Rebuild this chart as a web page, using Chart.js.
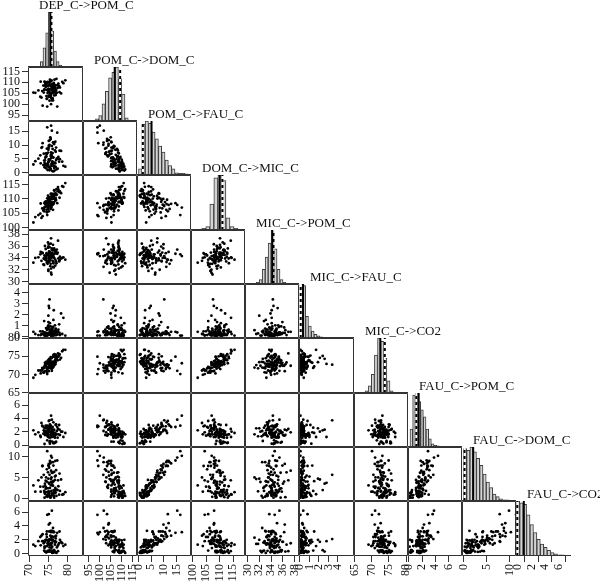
<!DOCTYPE html>
<html>
<head>
<meta charset="utf-8">
<script src="https://cdn.jsdelivr.net/npm/chart.js"></script>
<style>
  html, body { margin: 0; padding: 0; background: #fff; }
  #matrix { position: relative; width: 600px; height: 585px; overflow: hidden; background: #fff; }
  #matrix canvas { position: absolute; }
</style>
</head>
<body>
<div id="matrix"></div>
<script>
// flow names, in matrix order
const varNames = ['DEP_C->POM_C', 'POM_C->DOM_C', 'POM_C->FAU_C', 'DOM_C->MIC_C', 'MIC_C->POM_C',
                  'MIC_C->FAU_C', 'MIC_C->CO2', 'FAU_C->POM_C', 'FAU_C->DOM_C', 'FAU_C->CO2'];

// sampled flows (one entry per draw), estimated from the scatter clouds
const depPom = [75.8,74.6,76.9,75.2,73.9,77.4,75.5,76.2,74.1,78.3, 75.0,76.6,72.4,75.9,74.8,76.1,77.8,75.3,73.5,76.4,
  75.6,74.3,76.8,75.1,77.1,74.9,76.0,73.2,75.7,78.9, 75.4,74.0,76.3,75.8,71.6,76.7,75.2,74.7,77.5,75.9,
  74.4,76.5,75.3,73.7,77.0,75.6,76.2,74.5,79.4,75.0, 76.0,74.8,75.7,77.3,73.0,76.4,75.1,74.2,76.9,75.5,
  78.0,74.9,76.3,72.9,75.8,75.0,76.7,74.6,77.6,75.3, 74.1,76.1,75.4,73.4,76.8,75.7,77.2,74.4,75.9,71.1,
  76.5,75.2,74.7,77.9,75.6,74.3,76.2,75.0,73.8,76.6, 75.4,77.0,74.5,75.9,76.3,74.0,75.7,78.6,75.1,76.0];
const pomDom = [110.8,102.5,108.7,106.7,106.5,107.4,105.0,106.0,110.1,104.9, 106.6,111.2,106.3,101.8,105.1,107.9,108.2,108.6,99.3,109.7,
  103.9,109.0,105.2,106.3,111.6,108.4,105.3,103.0,108.7,109.6, 104.1,106.8,109.1,107.3,105.2,108.2,105.7,98.9,108.7,106.7,
  108.7,108.8,101.6,108.5,106.3,103.3,108.9,103.7,110.9,106.1, 106.8,110.2,104.5,98.9,110.3,107.3,103.9,109.2,104.2,110.4,
  107.6,106.5,105.3,103.4,110.8,107.1,106.2,102.4,109.4,109.0, 108.6,102.7,111.2,106.0,107.3,100.0,105.2,109.8,108.2,105.3,
  104.0,105.9,109.5,105.5,108.4,107.9,101.7,110.0,105.3,106.3, 110.0,105.3,106.5,106.4,105.3,110.3,102.9,110.2,103.3,109.1];
const pomFau = [3.2,6.8,2.1,9.5,4.4,1.5,12.8,5.6,2.7,7.9, 3.9,0.8,5.1,15.2,2.3,8.6,4.0,1.9,10.7,3.5,
  6.1,2.9,11.2,4.8,1.2,7.3,3.0,9.0,5.3,2.5, 11.8,3.6,0.5,6.5,4.2,8.1,2.0,16.4,5.0,3.3,
  7.0,1.7,10.1,2.8,4.6,12.2,3.8,5.9,2.2,8.9, 4.1,1.0,6.6,14.5,3.4,2.6,9.8,5.4,7.6,1.4,
  4.9,3.1,11.0,6.3,2.4,8.3,3.7,8.7,5.7,0.9, 4.5,7.1,2.2,9.3,3.4,17.0,5.2,1.6,6.0,3.0,
  10.4,4.3,2.6,8.0,1.3,5.8,10.9,3.9,6.9,2.3, 4.7,9.1,3.2,9.7,5.5,2.0,7.4,4.0,11.5,0.6];
const domMic = [111.8,105.6,111.9,108.0,105.7,112.7,108.3,110.1,108.4,112.0, 106.5,112.8,104.4,107.9,107.2,110.1,112.4,110.3,104.0,110.4,
  108.5,109.0,109.7,107.8,113.4,111.1,110.0,103.4,109.0,114.2, 107.9,107.1,111.0,107.3,103.7,111.8,107.9,104.4,114.1,108.8,
  107.4,113.0,107.5,106.0,111.3,106.5,111.7,106.3,115.5,109.0, 110.0,108.4,106.9,108.5,108.4,110.5,107.8,108.9,110.3,108.8,
  112.6,109.5,108.2,104.9,110.7,106.9,111.6,105.3,113.3,110.6, 108.9,108.0,110.4,106.7,109.4,107.0,111.5,109.1,110.9,101.8,
  108.9,108.9,110.2,110.4,111.7,108.0,106.2,109.8,106.5,111.3, 109.6,109.6,108.6,110.0,108.3,108.5,110.1,114.4,105.7,111.3];
const micPom = [34.5,33.2,35.1,34.0,32.8,34.9,33.6,36.2,34.3,33.9, 31.8,34.7,34.1,35.4,33.0,34.6,33.4,35.8,34.8,32.4,
  34.2,35.5,33.7,34.4,33.1,36.6,34.9,33.5,32.2,34.1, 35.0,33.8,34.5,31.2,34.0,35.2,33.3,34.6,36.9,34.2,
  33.6,35.6,34.3,32.9,34.8,33.0,35.3,34.0,33.7,35.9, 34.4,33.4,31.5,34.7,35.0,34.1,36.3,33.8,34.9,32.6,
  34.2,35.7,33.3,34.6,34.0,32.0,35.2,34.4,33.9,34.8, 36.0,33.5,34.1,34.9,32.7,34.3,35.4,33.9,34.6,33.2,
  34.0,35.1,34.5,33.6,36.4,34.2,32.5,34.7,33.9,35.3, 34.1,33.4,34.8,35.6,33.1,34.4,37.3,34.0,33.7,34.6];
const micFau = [0.2,0.6,0.1,0.3,1.4,0.15,0.4,0.8,0.05,2.1, 0.25,0.5,0.1,0.35,0.7,0.1,1.1,0.2,0.45,0.05,
  0.9,0.15,0.3,2.8,0.4,0.1,0.6,0.2,0.05,1.7, 0.25,0.35,0.1,0.55,0.2,1.0,0.15,0.05,0.4,0.7,
  0.1,0.3,3.4,0.2,0.5,0.1,0.85,0.25,0.05,1.3, 0.15,0.6,0.2,0.4,0.1,2.4,0.3,0.05,0.7,0.35,
  0.1,0.9,0.2,0.45,0.05,1.9,0.25,0.1,0.6,0.15, 0.3,0.1,1.2,0.2,0.5,0.05,0.35,0.75,0.1,0.4,
  0.2,2.6,0.1,0.3,0.55,0.05,0.45,1.0,0.2,0.15, 0.6,0.1,0.3,0.25,1.5,0.05,0.4,0.2,0.8,0.1];
const micCo2 = [74.5,70.5,74.3,73.0,71.8,73.9,73.8,72.4,73.2,74.6, 71.7,75.6,71.1,71.0,73.0,72.6,75.2,72.6,71.5,73.5,
  74.8,72.3,72.8,72.9,74.5,73.3,72.8,71.1,72.4,76.8, 72.6,70.9,75.4,71.9,69.9,73.9,73.7,70.1,75.8,71.6,
  72.9,73.1,72.7,70.6,75.4,71.7,74.9,71.0,76.8,73.2, 73.0,73.0,72.6,74.9,70.3,75.1,70.9,72.7,73.3,74.3,
  74.1,73.9,72.7,71.1,72.7,73.4,73.3,71.7,74.9,73.7, 72.4,72.2,73.4,71.8,73.4,73.1,74.2,73.5,72.6,69.1,
  72.5,74.3,71.5,75.6,72.8,72.5,71.9,73.7,70.5,74.8, 71.9,75.0,72.2,73.5,72.2,72.2,72.4,76.4,72.1,73.5];
const fauPom = [1.8,1.5,0.4,2.8,2.6,1.1,2.7,1.4,1.6,2.0, 1.3,0.3,1.9,3.8,1.6,1.7,3.0,0.45,2.8,1.3,
  1.6,2.1,1.8,1.2,1.6,2.2,0.5,3.3,2.0,1.2, 3.1,2.0,0.25,1.6,1.6,1.5,2.4,2.9,2.4,1.4,
  2.5,0.35,3.7,1.7,0.5,2.9,1.7,1.6,1.8,1.9, 2.4,1.3,2.5,2.7,1.2,2.2,2.3,1.8,3.0,0.6,
  1.5,1.8,3.4,1.4,1.6,2.5,1.1,2.7,1.6,2.0, 1.5,2.7,0.2,2.9,1.5,4.4,2.1,1.6,1.2,2.2,
  2.3,2.3,0.7,2.3,1.5,2.9,2.1,1.2,2.2,1.2, 1.1,3.1,1.9,2.1,1.8,0.15,1.9,2.0,3.6,1.7];
const fauDom = [3.2,4.1,1.5,7.4,1.9,2.1,8.4,4.1,1.2,4.6, 1.8,1.3,4.4,9.8,0.5,6.2,1.0,1.7,7.8,0.7,
  3.3,2.4,9.0,3.8,0.7,6.3,0.9,5.1,4.0,1.1, 9.0,1.5,1.4,5.1,1.7,5.3,1.2,11.3,4.4,1.3,
  5.1,0.3,5.7,2.9,2.1,8.7,3.1,2.6,1.6,7.9, 3.4,0.7,4.7,9.1,1.7,2.1,8.3,3.0,5.5,0.3,
  1.9,2.5,7.9,2.9,1.9,4.8,4.5,7.0,3.0,0.7, 3.6,4.0,0.7,7.8,2.6,10.2,2.2,1.6,3.9,3.2,
  6.4,3.6,0.9,6.0,0.4,4.3,8.7,1.4,5.7,1.8, 2.6,6.8,0.6,6.2,4.2,0.3,6.7,1.0,7.8,0.9];
const fauCo2 = [0.8,2.4,0.2,3.2,0.45,1.1,2.6,3.1,0.3,1.7, 1.4,0.3,1.8,6.2,1.5,2.0,1.5,0.5,2.8,0.2,
  1.2,2.0,2.5,1.8,0.1,1.3,1.9,2.6,0.4,1.1, 4.4,0.8,0.15,2.3,1.1,1.8,1.4,5.6,0.35,3.3,
  2.0,0.5,2.1,1.8,1.7,3.3,0.25,2.8,1.3,1.7, 1.0,0.4,1.4,3.0,1.2,0.5,4.2,1.0,2.2,0.35,
  2.0,0.3,2.4,2.4,0.4,2.0,1.3,3.2,1.3,0.9, 1.7,2.0,2.0,1.8,1.6,3.1,0.9,0.2,1.5,1.3,
  3.1,0.3,1.1,3.2,0.3,1.9,3.7,1.9,1.5,1.7, 1.2,2.6,0.2,2.5,3.2,1.0,1.5,1.5,5.7,0.1];
const samples = [depPom, pomDom, pomFau, domMic, micPom, micFau, micCo2, fauPom, fauDom, fauCo2];

// axis ranges and tick labels
const xMin = [69.7, 92.3, -0.6, 99.3, 29.6, -0.1, 64.9, -0.1, -0.3, -0.24];
const xMax = [84.0, 117.0, 20.6, 119.4, 38.7, 5.7, 80.5, 8.0, 11.3, 7.77];
const yMin = [null, 92.3, -0.8, 99.2, 29.6, -0.17, 64.9, -0.3, -0.5, -0.34];
const yMax = [null, 117.0, 18.7, 118.3, 38.7, 4.83, 80.05, 7.8, 12.3, 7.6];
const tickVals = [[70, 75, 80], [95, 100, 105, 110, 115], [0, 5, 10, 15], [100, 105, 110, 115],
                  [30, 32, 34, 36, 38], [0, 1, 2, 3, 4], [65, 70, 75, 80], [0, 2, 4, 6], [0, 5, 10], [0, 2, 4, 6]];

// diagonal histograms: first bin edge, bin width, bar heights
const binStart = [72.9, 98.0, 0.0, 103.3, 31.5, 0.0, 67.2, 0.2, 0.0, -0.2];
const binWidth = [0.7, 1.5, 1.3, 1.5, 0.5, 0.3, 0.9, 0.4, 0.7, 0.5];
const depPomHist = [10, 35, 62, 100, 65, 29, 10, 3, 1];
const pomDomHist = [4, 10, 32, 55, 80, 90, 100, 78, 50, 6];
const pomFauHist = [11, 91, 97, 93, 77, 65, 52, 41, 27, 17, 11, 4, 3, 3, 2];
const domMicHist = [3, 6, 47, 95, 100, 90, 22, 6, 3];
const micPomHist = [3, 8, 27, 50, 76, 100, 65, 27, 8, 3, 1];
const micFauHist = [100, 97, 40, 22, 13, 7, 4, 2, 1, 1];
const micCo2Hist = [1, 4, 13, 34, 69, 100, 94, 63, 22, 4, 1];
const fauPomHist = [33, 96, 100, 84, 69, 56, 33, 15, 6, 3, 2, 1];
const fauDomHist = [97, 94, 100, 91, 79, 66, 50, 35, 25, 13, 8, 4, 2, 2, 1];
const fauCo2Hist = [96, 93, 90, 72, 55, 41, 29, 21, 15, 10, 6, 4, 2, 2, 1];
const histCounts = [depPomHist, pomDomHist, pomFauHist, domMicHist, micPomHist,
                    micFauHist, micCo2Hist, fauPomHist, fauDomHist, fauCo2Hist];
const meanLine = [75.5, 106.8, 5.1, 110.0, 34.2, 0.33, 72.5, 1.5, 2.1, 0.9];   // solid
const refLine = [75.8, 109.3, 1.7, 111.0, 34.4, 0.08, 73.8, 1.15, 0.25, -0.05]; // dashed

// grid geometry (page pixels)
const colLeft = Array.from({ length: 11 }, (_, j) => Math.round(28.3 + j * 54.22));
const rowTop = Array.from({ length: 11 }, (_, i) => Math.round(12.4 + i * 54.32));
const PAGE_H = 585;
const FRAME = '#333';
const serif = "'Liberation Serif', 'Times New Roman', serif";
const matrix = document.getElementById('matrix');

Chart.defaults.font.family = serif;

// box around each scatter panel, baseline under each histogram
const framePlugin = {
  id: 'frame',
  afterDatasetsDraw(chart, args, opts) {
    const { ctx, chartArea: a } = chart;
    ctx.save();
    ctx.strokeStyle = FRAME;
    ctx.lineWidth = 1;
    ctx.beginPath();
    if (opts.bottomOnly) {
      ctx.moveTo(a.left, a.bottom - 0.5);
      ctx.lineTo(a.right, a.bottom - 0.5);
    } else {
      ctx.rect(a.left + 0.5, a.top + 0.5, a.right - a.left - 1, a.bottom - a.top - 1);
    }
    ctx.stroke();
    ctx.restore();
  }
};

// variable name above each histogram
const labelPlugin = {
  id: 'diagLabel',
  afterDraw(chart, args, opts) {
    const { ctx, chartArea: a } = chart;
    ctx.save();
    ctx.font = '13px ' + serif;
    ctx.fillStyle = '#111';
    ctx.textBaseline = 'alphabetic';
    ctx.fillText(opts.text, a.left + 11, a.top - 3);
    ctx.restore();
  }
};

function addCanvas(left, top, width, height) {
  const c = document.createElement('canvas');
  c.width = width;
  c.height = height;
  c.style.left = left + 'px';
  c.style.top = top + 'px';
  c.style.width = width + 'px';
  c.style.height = height + 'px';
  matrix.appendChild(c);
  return c;
}

const tickFont = { family: serif, size: 12 };
const tickGrid = { drawOnChartArea: false, drawTicks: true, tickLength: 6, color: FRAME, lineWidth: 1 };

function axisX(k, show, space) {
  return {
    type: 'linear', min: xMin[k], max: xMax[k], display: show, offset: false,
    afterBuildTicks: s => { s.ticks = tickVals[k].map(v => ({ value: v })); },
    afterFit: s => { s.height = space; s.paddingLeft = 0; s.paddingRight = 0; },
    grid: tickGrid,
    border: { display: false },
    ticks: { autoSkip: false, minRotation: 90, maxRotation: 90, padding: 2, color: '#111', font: tickFont }
  };
}

function axisY(k, show, space) {
  return {
    type: 'linear', min: yMin[k], max: yMax[k], display: show,
    afterBuildTicks: s => { s.ticks = tickVals[k].map(v => ({ value: v })); },
    afterFit: s => { s.width = space; s.paddingTop = 0; s.paddingBottom = 0; },
    grid: tickGrid,
    border: { display: false },
    ticks: { autoSkip: false, padding: 2, color: '#111', font: tickFont }
  };
}

const baseOptions = { responsive: false, animation: false, events: [] };

function scatterCell(i, j) {
  const L = colLeft[j], T = rowTop[i];
  const W = colLeft[j + 1] - L, H = rowTop[i + 1] - T;
  const leftAxis = j === 0, bottomAxis = i === 9;
  const pad = 8;
  const padL = leftAxis ? 0 : pad, axisW = leftAxis ? L : 0;
  const padB = bottomAxis ? 0 : pad, axisH = bottomAxis ? PAGE_H - (T + H) : 0;
  const canvas = addCanvas(L - axisW - padL, T - pad, padL + axisW + W + pad, pad + H + axisH + padB);
  const points = samples[j].map((x, k) => ({ x: x, y: samples[i][k] }));
  new Chart(canvas, {
    type: 'scatter',
    data: { datasets: [{ data: points, pointRadius: 1.4, pointBackgroundColor: '#000', pointBorderWidth: 0 }] },
    options: Object.assign({}, baseOptions, {
      layout: { padding: { left: padL, top: pad, right: pad, bottom: padB } },
      plugins: { legend: { display: false }, tooltip: { enabled: false }, frame: {} },
      scales: { x: axisX(j, bottomAxis, axisH), y: axisY(i, leftAxis, axisW) }
    }),
    plugins: [framePlugin]
  });
}

function histCell(k) {
  const L = colLeft[k], T = rowTop[k];
  const W = colLeft[k + 1] - L, H = rowTop[k + 1] - T;
  const bottomAxis = k === 9;
  const padL = 8, padT = 16, padR = Math.max(600 - (L + W), 8);
  const padB = bottomAxis ? 0 : 8, axisH = bottomAxis ? PAGE_H - (T + H) : 0;
  const canvas = addCanvas(L - padL, T - padT, padL + W + padR, padT + H + axisH + padB);
  const counts = histCounts[k];
  const top = Math.max(...counts);
  const bars = counts.map((c, b) => ({ x: binStart[k] + binWidth[k] * (b + 0.5), y: c }));
  const vline = v => [{ x: v, y: 0 }, { x: v, y: top }];
  new Chart(canvas, {
    type: 'bar',
    data: {
      datasets: [
        { type: 'bar', data: bars, backgroundColor: '#d4d4d4', borderColor: '#3c3c3c', borderWidth: 1,
          barPercentage: 1, categoryPercentage: 1, order: 5 },
        { type: 'line', data: vline(meanLine[k]), borderColor: '#000', borderWidth: 2, pointRadius: 0, order: 1 },
        { type: 'line', data: vline(refLine[k]), borderColor: '#fff', borderWidth: 2, pointRadius: 0, order: 2 },
        { type: 'line', data: vline(refLine[k]), borderColor: '#000', borderWidth: 2, borderDash: [3, 3], pointRadius: 0, order: 1 }
      ]
    },
    options: Object.assign({}, baseOptions, {
      layout: { padding: { left: padL, top: padT, right: padR, bottom: padB } },
      plugins: { legend: { display: false }, tooltip: { enabled: false },
                 frame: { bottomOnly: true }, diagLabel: { text: varNames[k] } },
      scales: { x: axisX(k, bottomAxis, axisH), y: { type: 'linear', display: false, min: 0, max: top } }
    }),
    plugins: [framePlugin, labelPlugin]
  });
}

for (let i = 0; i < 10; i++) {
  for (let j = 0; j < i; j++) scatterCell(i, j);
  histCell(i);
}
</script>
</body>
</html>
